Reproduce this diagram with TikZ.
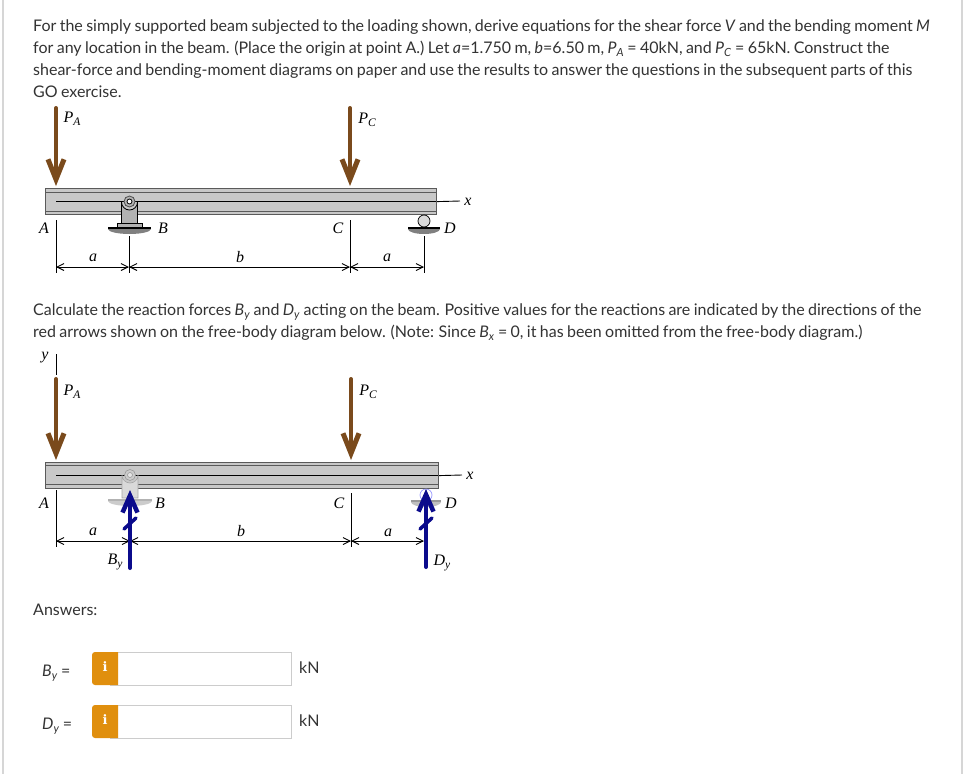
\documentclass[tikz,border=0pt]{standalone}
\usepackage{fontspec}
\setmainfont[WordSpace=0.82]{Lato}
\newfontfamily\lblfont{Liberation Serif}
\newfontfamily\hintfont{DejaVu Serif}
\usetikzlibrary{arrows.meta,positioning,calc}
\definecolor{inktext}{HTML}{333333}
\definecolor{forcebrown}{HTML}{7A4A1C}
\definecolor{reactblue}{HTML}{0B0B8C}
\definecolor{beamgrey}{HTML}{C8C8C8}
\definecolor{edgegrey}{HTML}{5A5A5A}
\definecolor{hintorange}{HTML}{E08F0E}
\newcommand{\lblsub}[2]{#1\raisebox{-3.5pt}{\fontsize{11.5}{12}\selectfont #2}}
\tikzset{
  para/.style={anchor=base west, inner sep=0pt, text=inktext, font=\fontsize{16}{18}\selectfont},
  lbl/.style={inner sep=0pt, font=\lblfont\itshape\fontsize{16}{18}\selectfont},
  force/.style={forcebrown, line width=4pt, line cap=round, -{Straight Barb[length=20pt,width=16pt,line width=5pt]}},
  react/.style={reactblue, line width=4pt, line cap=round, -{Straight Barb[length=17pt,width=15pt,line width=4.5pt]}},
  slash/.style={reactblue, line width=3.5pt, line cap=round},
  thin line/.style={black, line width=0.9pt},
  dimen/.style={black, line width=0.9pt, {Straight Barb[length=7pt,width=7pt]}-{Straight Barb[length=7pt,width=7pt]}},
  beam/.style={draw=edgegrey, fill=beamgrey, line width=1.2pt},
  hintbox/.style={fill=hintorange},
  hintmark/.style={inner sep=0pt, text=white, font=\hintfont\bfseries\fontsize{13}{15}\selectfont},
  entry/.style={draw=black!20, fill=white, line width=0.8pt},
}
\begin{document}
\begin{tikzpicture}[x=1pt,y=-1pt]
\path[use as bounding box, fill=white] (0,0) rectangle (967,774);
\draw[black!16, line width=1.2pt] (3,-1) -- (3,775);
\draw[black!16, line width=1.2pt] (962,-1) -- (962,775);
% question text
\node[para] (q1) at (33,31.5) {For the simply supported beam subjected to the loading shown, derive equations for the shear force \textit{V} and the bending moment \textit{M}};
\node[para] (q2) at (33,53.5) {for any location in the beam. (Place the origin at point A.) Let \textit{a}=1.750 m, \textit{b}=6.50 m, \textit{P}\textsubscript{\textit{A}} = 40kN, and \textit{P}\textsubscript{\textit{C}} = 65kN. Construct the};
\node[para] (q3) at (33,75.5) {shear-force and bending-moment diagrams on paper and use the results to answer the questions in the subsequent parts of this};
\node[para] (q4) at (33,97.5) {GO exercise.};
\node[para] (r1) at (33,315.5) {Calculate the reaction forces \textit{B}\textsubscript{\textit{y}} and \textit{D}\textsubscript{\textit{y}} acting on the beam. Positive values for the reactions are indicated by the directions of the};
\node[para] (r2) at (33,337.5) {red arrows shown on the free-body diagram below. (Note: Since \textit{B}\textsubscript{\textit{x}} = 0, it has been omitted from the free-body diagram.)};
% first beam
\node[beam, minimum width=391pt, minimum height=26pt, inner sep=0pt, anchor=north west] (beam1) at (45,188) {};
\draw[edgegrey, line width=1pt] (45,192.5) -- (436,192.5);
\draw[edgegrey, line width=1pt] (45,211) -- (436,211);
\draw[thin line] (56,201) -- (436,201);
\coordinate (x1) at (460,201);
\draw[thin line] (beam1.east) -- (x1);
\node[lbl] (x1l) at (468,201.5) {x};
% pin support B
\fill[black!50] (108,229) arc[start angle=180, end angle=360, x radius=21.5pt, y radius=5pt] -- cycle;
\draw[black, fill=black!30, line width=0.8pt] (121.5,224) -- (121.5,202) arc[start angle=180, end angle=360, radius=8pt] -- (137.5,224) -- cycle;
\draw[black, fill=black!30, line width=0.6pt] (117,223) rectangle (142,227);
\draw[black, line width=2.5pt] (108,228) -- (151,228);
\draw[black!70, fill=black!30, line width=0.8pt] (129.5,201.5) circle (5.5pt);
\draw[black, fill=white, line width=0.8pt] (129.5,201.5) circle (2.5pt);
% roller support D
\fill[black!50] (408,229) arc[start angle=180, end angle=360, x radius=16pt, y radius=5pt] -- cycle;
\draw[black, fill=black!15, line width=0.7pt] (424,221) circle (6pt);
\draw[black, line width=2.5pt] (408,228) -- (440,228);
% loads on first beam
\coordinate (pa1s) at (56,108);
\coordinate (pa1e) at (56,186);
\coordinate (pc1s) at (350,108);
\coordinate (pc1e) at (350,186);
\draw[force] (pa1s) -- (pa1e);
\draw[force] (pc1s) -- (pc1e);
\node[lbl] (pa1) at (72,119) {\lblsub{P}{A}};
\node[lbl] (pc1) at (367,120) {\lblsub{P}{C}};
% dimensions of first beam
\coordinate (ta1) at (56,220);
\coordinate (ta1b) at (56,273);
\coordinate (tb1) at (129,236);
\coordinate (tb1b) at (129,273);
\coordinate (tc1) at (350,220);
\coordinate (tc1b) at (350,273);
\coordinate (td1) at (424,236);
\coordinate (td1b) at (424,273);
\draw[thin line] (ta1) -- (ta1b);
\draw[thin line] (tb1) -- (tb1b);
\draw[thin line] (tc1) -- (tc1b);
\draw[thin line] (td1) -- (td1b);
\draw[dimen] (56,267) -- (129,267);
\draw[dimen] (129,267) -- (350,267);
\draw[dimen] (350,267) -- (424,267);
\node[lbl] (a1) at (44,228.5) {A};
\node[lbl] (b1) at (163,228.5) {B};
\node[lbl] (c1) at (338,228.5) {C};
\node[lbl] (d1) at (450,228.5) {D};
\node[lbl] (da1) at (93,258) {a};
\node[lbl] (db1) at (240,257) {b};
\node[lbl] (da2) at (387,258) {a};
% second beam
\node[beam, minimum width=393pt, minimum height=26pt, inner sep=0pt, anchor=north west] (beam2) at (45,462) {};
\draw[edgegrey, line width=1pt] (45,465.5) -- (438,465.5);
\draw[edgegrey, line width=1pt] (45,484) -- (438,484);
\draw[thin line] (56,475) -- (438,475);
\coordinate (x2) at (462,475);
\draw[thin line] (beam2.east) -- (x2);
\node[lbl] (x2l) at (470,475.5) {x};
% faded supports
\fill[black!20] (108,501) arc[start angle=180, end angle=360, x radius=22pt, y radius=5pt] -- cycle;
\draw[black!35, fill=black!15, line width=0.6pt] (122,498) -- (122,475) arc[start angle=180, end angle=360, radius=8pt] -- (138,498) -- cycle;
\draw[black!40, fill=black!20, line width=0.6pt] (130,475) circle (5.5pt);
\draw[black!40, fill=black!10, line width=0.6pt] (130,475) circle (2.5pt);
\draw[black!30, line width=2pt] (108,500) -- (152,500);
\fill[black!25] (411,502) arc[start angle=180, end angle=360, x radius=15pt, y radius=5pt] -- cycle;
\draw[black!40, line width=2pt] (411,501) -- (441,501);
\draw[blue!40, line width=0.7pt] (426,495) circle (6pt);
% y axis
\coordinate (y2s) at (56,354);
\coordinate (y2e) at (56,375);
\draw[thin line] (y2s) -- (y2e);
\node[lbl] (y2l) at (45,358) {y};
% dimensions of second beam
\coordinate (ta2) at (56,490);
\coordinate (ta2b) at (56,547);
\coordinate (tc2) at (351,493);
\coordinate (tc2b) at (351,547);
\draw[thin line] (ta2) -- (ta2b);
\draw[thin line] (tc2) -- (tc2b);
\draw[dimen] (56,541) -- (130,541);
\draw[dimen] (130,541) -- (351,541);
\draw[dimen] (351,541) -- (424,541);
\node[lbl] (a2) at (44,503) {A};
\node[lbl] (b2) at (160,503) {B};
\node[lbl] (c2) at (339,503) {C};
\node[lbl] (d2) at (451,503) {D};
\node[lbl] (da3) at (93,532) {a};
\node[lbl] (db2) at (241,531) {b};
\node[lbl] (da4) at (388,533) {a};
% loads and reactions on second beam
\coordinate (pa2s) at (56,379);
\coordinate (pa2e) at (56,460);
\coordinate (pc2s) at (351,379);
\coordinate (pc2e) at (351,460);
\draw[force] (pa2s) -- (pa2e);
\draw[force] (pc2s) -- (pc2e);
\node[lbl] (pa2) at (72,392) {\lblsub{P}{A}};
\node[lbl] (pc2) at (368,392) {\lblsub{P}{C}};
\coordinate (bys) at (130,568);
\coordinate (bye) at (130,490);
\coordinate (dys) at (426,567);
\coordinate (dye) at (426,489);
\draw[react] (bys) -- (bye);
\draw[react] (dys) -- (dye);
\draw[slash] (124,529) -- (136,518);
\draw[slash] (420,529) -- (432,518);
\node[lbl] (byl) at (115,562) {\lblsub{B}{y}};
\node[lbl] (dyl) at (442,563) {\lblsub{D}{y}};
% answers
\node[para] (ans) at (33,615.5) {Answers:};
\node[para] (byq) at (42,676.5) {\textit{B}\textsubscript{\textit{y}} =};
\node[para] (dyq) at (42,729.5) {\textit{D}\textsubscript{\textit{y}} =};
\draw[entry] (110,652.5) rectangle (291,685);
\draw[entry] (110,705.5) rectangle (291,738);
\fill[hintbox] (118,652) [rounded corners=3pt] -- (92,652) -- (92,685) [sharp corners] -- (118,685) -- cycle;
\fill[hintbox] (118,705) [rounded corners=3pt] -- (92,705) -- (92,738) [sharp corners] -- (118,738) -- cycle;
\node[hintmark] (i1) at (105,667) {i};
\node[hintmark] (i2) at (105,720) {i};
\node[para] (kn1) at (299,673.5) {kN};
\node[para] (kn2) at (299,726.5) {kN};
\end{tikzpicture}
\end{document}
